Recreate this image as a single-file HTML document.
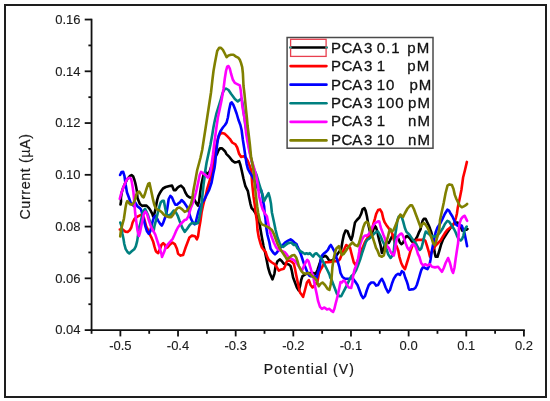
<!DOCTYPE html>
<html><head><meta charset="utf-8"><title>PCA3 DPV</title>
<style>html,body{margin:0;padding:0;background:#fff;}body{width:550px;height:401px;position:relative;overflow:hidden;}</style>
</head><body>
<svg width="550" height="401" viewBox="0 0 550 401" style="position:absolute;left:0;top:0">
<rect x="5" y="5" width="541" height="392" fill="none" stroke="#1e1e1e" stroke-width="2"/>
<g stroke="#111" stroke-width="1.8" fill="none" stroke-linecap="square">
<line x1="91.55" y1="19.54" x2="91.55" y2="330.1"/>
<line x1="91.55" y1="330.1" x2="523.92" y2="330.1"/>
</g>
<g stroke="#111" stroke-width="1.8" fill="none">
<line x1="84.7" y1="330.10" x2="91.55" y2="330.10"/>
<line x1="88.4" y1="304.22" x2="91.55" y2="304.22"/>
<line x1="84.7" y1="278.34" x2="91.55" y2="278.34"/>
<line x1="88.4" y1="252.46" x2="91.55" y2="252.46"/>
<line x1="84.7" y1="226.58" x2="91.55" y2="226.58"/>
<line x1="88.4" y1="200.70" x2="91.55" y2="200.70"/>
<line x1="84.7" y1="174.82" x2="91.55" y2="174.82"/>
<line x1="88.4" y1="148.94" x2="91.55" y2="148.94"/>
<line x1="84.7" y1="123.06" x2="91.55" y2="123.06"/>
<line x1="88.4" y1="97.18" x2="91.55" y2="97.18"/>
<line x1="84.7" y1="71.30" x2="91.55" y2="71.30"/>
<line x1="88.4" y1="45.42" x2="91.55" y2="45.42"/>
<line x1="84.7" y1="19.54" x2="91.55" y2="19.54"/>
<line x1="91.55" y1="330.1" x2="91.55" y2="333.8"/>
<line x1="120.38" y1="330.1" x2="120.38" y2="336.4"/>
<line x1="149.20" y1="330.1" x2="149.20" y2="333.8"/>
<line x1="178.03" y1="330.1" x2="178.03" y2="336.4"/>
<line x1="206.85" y1="330.1" x2="206.85" y2="333.8"/>
<line x1="235.68" y1="330.1" x2="235.68" y2="336.4"/>
<line x1="264.50" y1="330.1" x2="264.50" y2="333.8"/>
<line x1="293.32" y1="330.1" x2="293.32" y2="336.4"/>
<line x1="322.15" y1="330.1" x2="322.15" y2="333.8"/>
<line x1="350.98" y1="330.1" x2="350.98" y2="336.4"/>
<line x1="379.80" y1="330.1" x2="379.80" y2="333.8"/>
<line x1="408.63" y1="330.1" x2="408.63" y2="336.4"/>
<line x1="437.45" y1="330.1" x2="437.45" y2="333.8"/>
<line x1="466.28" y1="330.1" x2="466.28" y2="336.4"/>
<line x1="495.10" y1="330.1" x2="495.10" y2="333.8"/>
<line x1="523.92" y1="330.1" x2="523.92" y2="336.4"/>
</g>
<g font-family="'Liberation Sans', Arial, sans-serif" font-size="13" fill="#1a1a1a" stroke="#1a1a1a" stroke-width="0.12" text-anchor="end">
<text x="80.6" y="334.30">0.04</text>
<text x="80.6" y="282.54">0.06</text>
<text x="80.6" y="230.78">0.08</text>
<text x="80.6" y="179.02">0.10</text>
<text x="80.6" y="127.26">0.12</text>
<text x="80.6" y="75.50">0.14</text>
<text x="80.6" y="23.74">0.16</text>
</g>
<g font-family="'Liberation Sans', Arial, sans-serif" font-size="13" fill="#1a1a1a" stroke="#1a1a1a" stroke-width="0.12" text-anchor="middle">
<text x="120.38" y="349.8">-0.5</text>
<text x="178.03" y="349.8">-0.4</text>
<text x="235.68" y="349.8">-0.3</text>
<text x="293.33" y="349.8">-0.2</text>
<text x="350.98" y="349.8">-0.1</text>
<text x="408.63" y="349.8">0.0</text>
<text x="466.28" y="349.8">0.1</text>
<text x="523.93" y="349.8">0.2</text>
</g>
<text x="309.4" y="373.9" font-family="'Liberation Sans', Arial, sans-serif" font-size="14" letter-spacing="1.1" fill="#1a1a1a" stroke="#1a1a1a" stroke-width="0.2" text-anchor="middle">Potential (V)</text>
<text transform="translate(30.3,176.5) rotate(-90)" x="0" y="0" font-family="'Liberation Sans', Arial, sans-serif" font-size="14.3" letter-spacing="0.6" fill="#1a1a1a" stroke="#1a1a1a" stroke-width="0.2" text-anchor="middle">Current (µA)</text>
<g fill="none" stroke-width="2.6" stroke-linejoin="round" stroke-linecap="round">
<path stroke="#000000" d="M120.5,204.5 L121.0,201.5 L120.9,198.0 L121.7,192.5 L123.1,188.0 L125.1,183.3 L127.1,179.4 L129.7,176.2 L131.6,175.1 L133.1,176.2 L134.2,179.2 L135.3,183.0 L136.1,186.7 L136.8,190.4 L137.5,198.0 L139.9,204.0 L142.4,206.0 L144.0,205.6 L146.5,205.6 L149.0,208.1 L150.6,210.6 L152.3,213.8 L153.1,216.3 L154.3,213.8 L155.6,208.9 L156.4,204.0 L157.2,199.9 L158.4,195.8 L159.7,193.3 L161.3,190.8 L163.0,188.5 L165.7,187.0 L169.5,186.0 L172.0,185.6 L173.9,190.3 L175.6,190.1 L177.6,187.7 L178.5,186.9 L181.0,185.6 L183.5,188.1 L185.4,192.5 L187.2,195.6 L189.7,197.5 L192.2,197.5 L194.7,200.0 L196.6,203.8 L197.9,205.6 L199.1,201.2 L200.4,191.0 L201.5,183.9 L202.6,178.7 L204.0,173.0 L206.0,172.5 L207.5,174.0 L209.5,172.0 L211.5,166.0 L213.5,161.0 L215.5,156.5 L217.2,153.5 L218.4,150.5 L220.0,148.4 L222.1,148.4 L225.2,151.5 L226.3,153.8 L228.8,156.3 L232.2,160.6 L234.8,162.5 L237.2,161.9 L239.1,161.2 L240.4,165.0 L241.6,170.0 L243.5,178.8 L245.4,186.2 L247.9,191.2 L249.1,197.5 L250.4,203.8 L251.6,208.1 L253.5,210.0 L256.0,214.0 L258.8,220.0 L260.6,230.0 L262.0,238.0 L263.5,246.0 L265.0,252.0 L266.9,261.2 L268.1,267.5 L270.0,273.8 L272.5,279.4 L274.4,273.8 L275.6,266.2 L277.5,261.2 L280.0,259.4 L281.9,261.2 L283.8,263.8 L286.2,263.8 L288.8,264.4 L290.6,266.2 L291.9,271.2 L293.1,277.5 L295.0,282.5 L296.9,287.5 L298.8,290.5 L300.0,286.2 L301.2,280.0 L302.5,276.2 L306.0,274.0 L310.0,273.0 L313.9,273.0 L315.5,274.0 L317.5,270.0 L319.5,264.0 L321.0,259.0 L322.1,257.3 L323.8,256.5 L325.4,255.7 L327.1,257.3 L328.7,259.8 L330.5,261.0 L333.0,260.0 L336.0,256.0 L339.0,252.0 L341.2,249.0 L342.5,241.2 L343.8,235.0 L345.6,230.6 L347.5,231.2 L349.4,236.2 L351.2,240.0 L352.5,236.2 L353.8,228.8 L355.0,222.5 L356.9,220.0 L359.4,217.5 L361.2,213.8 L362.5,209.4 L364.4,208.1 L365.6,210.6 L366.9,216.2 L368.2,224.0 L369.9,231.4 L372.0,233.0 L374.8,225.7 L376.0,227.3 L377.3,231.4 L378.1,235.6 L379.3,240.5 L380.6,245.4 L381.9,253.0 L383.1,250.5 L384.4,245.5 L386.2,241.8 L388.8,243.0 L390.4,239.7 L392.1,236.4 L393.7,235.6 L395.4,237.2 L398.3,238.4 L399.9,242.6 L401.6,244.2 L403.2,242.6 L404.9,238.4 L406.5,236.0 L408.2,236.8 L409.8,238.4 L411.4,240.9 L413.1,242.6 L415.6,239.3 L417.2,236.8 L418.8,232.7 L420.5,229.4 L421.3,225.3 L422.5,221.0 L423.8,218.8 L425.6,218.8 L427.1,222.0 L428.7,225.3 L430.0,228.6 L431.2,231.9 L432.8,238.4 L433.8,244.0 L434.5,251.8 L435.6,256.8 L437.5,256.8 L439.4,250.5 L441.2,244.2 L443.1,239.2 L447.0,233.0 L451.0,227.0 L455.0,222.5 L457.5,222.5 L460.0,225.0 L462.2,230.6 L463.8,229.8 L466.3,229.8 L467.5,229.0"/>
<path stroke="#ff0000" d="M119.8,229.5 L122.7,229.5 L125.2,231.6 L127.6,232.0 L129.7,230.3 L131.3,227.5 L132.6,222.5 L134.5,218.8 L137.0,216.9 L139.5,215.6 L142.0,214.4 L144.0,218.0 L146.2,226.4 L148.7,231.3 L150.3,235.4 L151.6,237.9 L153.1,241.4 L154.4,246.4 L155.6,250.5 L156.4,251.9 L158.2,253.1 L160.1,248.8 L161.4,245.0 L163.2,243.1 L165.1,245.0 L165.6,248.0 L167.5,247.5 L170.0,244.4 L172.5,242.5 L175.0,244.4 L176.9,248.8 L178.1,253.8 L180.6,255.6 L183.1,255.0 L184.4,251.2 L185.6,247.5 L187.5,242.5 L189.4,237.5 L191.9,235.6 L195.0,236.2 L196.9,239.4 L198.1,236.2 L199.1,228.8 L200.4,221.2 L201.6,212.5 L202.9,206.2 L204.1,201.2 L205.4,197.5 L207.2,188.8 L209.1,182.5 L211.0,176.2 L213.0,166.0 L214.8,156.0 L216.3,146.0 L217.8,139.0 L219.5,135.0 L221.4,132.8 L224.8,133.8 L227.2,136.2 L229.8,138.8 L232.2,142.5 L235.4,144.4 L237.2,147.5 L239.1,153.8 L241.0,156.9 L243.5,156.2 L246.0,158.0 L247.9,161.2 L249.8,166.2 L251.0,170.0 L251.6,175.0 L252.2,183.8 L253.5,196.2 L254.8,205.0 L255.6,212.5 L256.9,221.2 L257.5,230.0 L258.8,237.5 L260.6,243.8 L261.9,247.5 L263.8,250.0 L265.6,251.9 L266.9,256.2 L268.8,260.0 L271.9,262.5 L275.0,264.4 L276.9,267.5 L278.8,270.6 L281.2,269.4 L283.8,268.8 L285.6,265.0 L286.9,261.2 L289.4,260.6 L291.9,261.9 L293.8,263.8 L295.0,268.8 L296.2,275.0 L297.5,281.2 L298.8,287.5 L300.0,292.5 L301.9,295.0 L303.1,296.9 L305.0,290.0 L306.9,282.5 L308.8,280.0 L310.6,285.0 L312.5,287.5 L315.0,285.0 L317.5,281.2 L318.8,274.0 L320.5,269.7 L322.1,267.2 L323.8,263.9 L325.4,262.3 L327.9,262.3 L330.4,261.9 L332.8,261.4 L335.3,261.0 L337.8,261.4 L340.0,259.0 L342.5,252.5 L344.4,248.8 L346.2,245.0 L348.1,246.2 L350.0,247.5 L351.2,252.5 L352.5,257.5 L353.8,262.5 L355.6,265.0 L357.5,261.0 L360.0,255.0 L362.5,248.0 L365.0,242.0 L367.5,238.0 L369.5,235.6 L370.7,232.3 L372.3,228.2 L373.6,223.2 L374.8,219.1 L376.2,213.8 L378.1,210.0 L380.0,209.4 L381.9,212.5 L383.4,219.1 L384.7,222.4 L386.3,224.9 L388.0,227.3 L389.2,229.0 L390.8,230.6 L392.1,233.1 L392.9,236.4 L395.0,243.4 L396.5,246.0 L398.3,250.8 L399.4,256.8 L401.2,263.0 L403.1,266.8 L405.0,269.2 L406.9,263.0 L408.8,256.8 L410.6,250.5 L412.5,245.5 L414.4,241.8 L416.9,239.9 L421.2,239.9 L423.8,239.3 L425.4,240.9 L426.9,245.5 L428.8,251.8 L430.0,256.8 L431.2,253.0 L433.1,249.2 L435.6,245.5 L438.1,243.0 L440.6,240.5 L442.5,237.2 L444.9,233.1 L447.4,229.8 L450.7,227.3 L453.2,224.9 L454.8,221.6 L456.0,217.5 L456.9,213.8 L457.7,208.1 L458.9,202.3 L460.1,196.6 L461.4,190.0 L463.1,177.5 L465.0,170.0 L466.9,161.9"/>
<path stroke="#0000ff" d="M120.1,175.0 L121.5,172.0 L123.2,171.9 L124.5,176.2 L125.7,185.0 L127.0,192.5 L128.9,197.5 L130.7,203.0 L133.9,206.0 L135.0,202.3 L137.5,206.4 L139.9,208.1 L141.0,209.5 L142.1,213.2 L143.8,219.8 L145.4,226.4 L147.0,231.3 L148.7,233.8 L150.3,231.3 L151.6,225.6 L152.8,220.6 L154.0,217.3 L155.3,215.7 L156.5,217.3 L158.1,220.6 L160.2,223.9 L161.8,225.6 L163.1,223.1 L164.3,219.8 L165.5,216.5 L166.4,213.2 L167.2,209.1 L168.7,199.0 L170.4,195.8 L172.0,197.4 L173.7,201.5 L175.3,204.8 L176.9,204.8 L178.6,203.2 L180.0,202.3 L181.6,200.0 L184.1,202.5 L186.6,206.2 L188.5,210.0 L189.7,215.0 L191.0,218.8 L192.9,222.5 L194.7,224.4 L196.0,221.2 L197.2,216.2 L198.5,211.2 L200.4,206.2 L202.2,202.5 L204.1,200.0 L206.0,196.2 L209.1,190.0 L211.6,182.5 L213.2,174.0 L214.5,168.0 L215.3,162.0 L216.0,154.0 L217.2,143.8 L218.5,136.2 L220.4,131.2 L222.9,127.5 L225.0,125.0 L226.6,122.5 L227.9,117.5 L229.1,110.0 L230.5,103.5 L231.6,102.3 L233.3,104.7 L234.9,108.8 L236.6,113.5 L238.5,120.0 L240.4,125.0 L241.6,130.0 L242.9,140.0 L244.1,147.5 L245.4,156.2 L246.6,163.8 L247.9,168.8 L249.8,172.5 L252.2,176.2 L254.1,180.0 L256.0,185.0 L258.5,190.0 L261.0,190.0 L262.2,193.8 L262.9,200.0 L264.1,206.2 L264.6,212.5 L265.6,220.0 L266.2,227.5 L267.5,235.0 L269.4,242.5 L270.6,248.8 L273.1,252.5 L275.0,254.4 L276.9,252.5 L279.4,248.8 L281.9,246.2 L285.0,242.5 L288.1,240.6 L290.6,239.4 L292.5,240.6 L294.4,242.5 L296.5,244.0 L297.5,246.6 L299.1,249.9 L300.8,254.0 L302.4,259.0 L304.0,263.9 L305.7,268.0 L307.3,272.1 L309.0,275.4 L310.6,276.3 L312.5,276.2 L315.0,276.2 L316.9,277.5 L318.0,272.1 L319.7,267.2 L320.5,261.4 L321.3,257.3 L322.5,254.9 L324.2,253.2 L326.3,251.6 L327.9,249.9 L329.5,246.6 L330.8,245.0 L332.8,248.3 L334.5,251.6 L335.7,254.9 L336.9,259.0 L338.2,263.1 L339.4,267.2 L340.5,273.0 L342.5,277.0 L345.0,278.8 L348.8,278.8 L352.5,278.1 L355.0,281.2 L357.5,285.0 L359.4,290.0 L361.2,295.0 L363.1,298.1 L365.0,296.2 L366.9,290.0 L368.8,285.0 L371.2,282.5 L373.8,282.5 L376.2,285.6 L378.1,285.0 L380.0,281.2 L381.9,278.8 L383.8,282.5 L385.6,287.5 L388.1,292.5 L390.0,290.0 L391.9,283.8 L393.8,278.8 L396.2,275.0 L398.1,273.8 L400.0,275.0 L401.9,271.2 L403.7,272.5 L405.2,277.5 L406.7,281.2 L407.9,285.0 L408.6,288.3 L409.5,289.8 L411.2,289.4 L413.5,289.1 L415.3,288.0 L416.8,285.0 L418.0,281.2 L419.1,277.5 L420.2,273.7 L421.3,270.0 L423.1,266.8 L425.0,268.0 L427.5,269.2 L429.4,265.5 L430.6,259.2 L431.9,250.5 L433.1,244.2 L434.4,238.0 L435.6,232.5 L437.5,227.5 L440.0,223.8 L442.5,218.8 L444.9,213.8 L447.4,209.7 L449.0,210.6 L450.7,213.8 L452.3,216.3 L454.0,219.9 L455.6,224.0 L457.3,225.7 L459.7,224.9 L461.8,225.7 L463.0,229.0 L464.7,233.9 L465.5,238.0 L466.3,242.1 L467.1,246.2"/>
<path stroke="#008080" d="M120.3,222.5 L121.5,226.0 L122.3,233.2 L123.5,239.0 L124.3,244.0 L125.6,248.8 L127.6,252.1 L129.3,253.4 L131.7,251.3 L134.2,249.3 L135.8,246.4 L137.1,241.4 L137.9,236.5 L138.3,231.6 L139.1,227.5 L140.0,225.0 L141.4,218.8 L143.2,211.0 L145.1,208.8 L148.0,215.0 L151.0,225.0 L153.6,231.3 L154.4,226.4 L155.7,221.4 L156.9,216.5 L158.1,211.6 L159.4,206.6 L160.7,202.5 L162.5,200.7 L163.8,200.7 L165.4,208.9 L166.3,213.8 L168.5,216.0 L171.0,214.0 L173.7,210.6 L176.0,212.5 L177.9,216.2 L179.7,221.2 L182.2,227.5 L184.7,231.9 L187.2,228.8 L189.7,225.0 L191.6,223.1 L193.5,223.1 L196.0,223.8 L197.9,223.1 L199.1,218.8 L200.4,212.5 L201.6,206.2 L202.2,197.5 L203.5,185.0 L204.7,176.2 L205.4,170.0 L206.6,162.5 L208.5,153.8 L210.4,145.0 L212.2,135.0 L213.5,127.0 L214.5,122.0 L216.3,114.0 L218.5,107.0 L220.6,100.0 L222.6,93.0 L224.5,89.5 L226.0,88.5 L228.5,90.0 L231.0,93.8 L232.5,95.7 L234.9,99.0 L237.8,101.4 L239.9,99.8 L241.5,98.5 L242.5,103.0 L243.5,111.0 L244.5,118.0 L245.3,125.0 L246.8,133.0 L248.0,141.0 L249.5,150.0 L251.0,158.0 L252.8,166.0 L254.8,171.0 L256.6,175.0 L259.1,183.8 L261.0,190.0 L262.9,196.2 L264.1,201.2 L266.0,197.5 L268.5,193.1 L269.8,197.5 L271.0,203.8 L271.9,212.5 L273.8,221.2 L275.6,230.0 L277.5,237.5 L279.4,242.5 L281.2,246.2 L283.1,246.9 L285.6,245.0 L288.1,243.1 L291.2,242.5 L293.8,245.0 L295.6,244.5 L297.5,248.3 L299.9,250.8 L302.4,252.4 L304.9,254.0 L306.5,253.2 L308.2,254.0 L309.8,253.2 L311.4,254.9 L313.1,256.5 L314.7,254.0 L316.4,253.2 L318.0,254.9 L319.7,256.5 L321.3,258.2 L323.0,261.4 L324.6,264.7 L326.3,268.0 L327.9,271.3 L329.5,274.6 L330.4,277.9 L331.2,278.8 L333.1,283.8 L335.0,288.8 L336.9,293.8 L339.4,296.2 L341.2,296.2 L343.1,292.5 L345.0,288.8 L346.9,285.0 L348.8,281.2 L351.2,276.2 L353.8,274.0 L356.2,270.0 L358.5,264.0 L360.5,258.5 L362.3,252.5 L363.9,247.9 L365.8,242.1 L367.4,239.7 L369.0,238.8 L370.7,237.2 L372.3,235.6 L374.0,233.9 L375.6,232.3 L377.3,231.4 L378.5,232.3 L380.5,236.0 L382.5,241.0 L384.5,245.0 L386.2,248.0 L388.1,254.2 L390.6,258.0 L392.5,255.5 L393.8,250.5 L394.5,244.0 L395.4,233.9 L396.2,229.0 L397.0,223.2 L397.8,219.1 L398.7,216.6 L400.3,215.8 L401.9,217.5 L403.2,221.6 L404.9,228.0 L406.5,231.9 L408.2,233.5 L409.8,235.2 L411.4,237.6 L413.1,240.1 L414.7,241.7 L416.4,244.2 L418.0,247.5 L419.7,250.0 L421.3,248.3 L422.5,244.2 L423.4,240.1 L424.6,235.2 L425.8,231.5 L427.5,233.0 L430.0,235.0 L433.7,236.8 L436.1,236.0 L438.0,234.5 L440.0,232.5 L442.5,228.8 L444.9,224.0 L447.4,220.8 L449.0,221.6 L450.7,224.0 L452.3,226.5 L454.0,229.0 L455.6,232.3 L456.9,235.6 L458.5,238.8 L460.6,240.5 L462.2,238.8 L463.4,235.6 L464.3,231.4 L465.5,228.2 L466.7,226.5"/>
<path stroke="#ff00ff" d="M119.8,198.8 L120.7,195.2 L121.9,191.6 L123.1,188.0 L125.2,183.0 L127.1,179.2 L128.6,178.1 L130.1,177.7 L131.2,179.2 L132.0,183.0 L132.7,187.4 L133.4,192.0 L133.8,196.0 L134.2,201.0 L134.6,206.0 L135.1,212.5 L136.4,222.5 L137.6,231.0 L138.9,236.0 L140.0,232.5 L142.0,222.5 L143.9,213.8 L145.4,211.6 L147.0,214.0 L148.7,219.8 L150.3,224.7 L152.0,228.8 L153.6,231.3 L155.3,234.6 L157.0,240.0 L159.5,247.5 L161.4,253.8 L162.0,256.9 L163.9,252.5 L165.7,247.5 L168.2,243.8 L170.7,241.2 L172.6,239.0 L174.4,235.0 L176.0,231.2 L177.9,227.5 L179.7,225.0 L182.2,222.5 L184.7,220.0 L186.6,219.4 L188.5,216.2 L189.7,211.9 L191.0,207.5 L193.5,201.2 L196.0,192.5 L197.9,183.8 L199.7,175.0 L201.0,171.9 L202.9,173.1 L205.4,175.0 L207.9,177.5 L209.1,176.2 L210.4,171.2 L211.6,164.0 L212.9,155.0 L214.1,145.0 L215.4,135.0 L216.6,126.2 L217.9,117.5 L219.8,108.8 L221.6,100.0 L223.5,89.0 L224.8,78.5 L226.0,71.0 L227.2,66.6 L228.5,66.0 L229.8,68.5 L231.0,73.5 L232.9,79.8 L234.8,82.9 L237.2,84.1 L239.8,85.4 L240.7,89.9 L241.5,97.3 L242.3,105.6 L243.6,113.8 L244.6,119.0 L245.4,124.5 L246.0,132.5 L247.2,140.0 L249.1,150.0 L251.0,158.8 L253.5,166.0 L256.0,175.0 L257.9,185.0 L259.1,196.2 L261.0,203.8 L262.5,208.8 L265.0,213.8 L266.9,216.2 L268.1,222.5 L269.4,228.8 L270.6,233.8 L271.9,237.5 L273.8,242.5 L276.2,247.5 L278.8,250.0 L282.5,251.2 L285.0,252.5 L286.2,253.8 L288.8,257.5 L291.2,258.8 L293.8,260.0 L296.2,262.5 L298.8,266.2 L301.2,270.0 L302.4,269.7 L304.0,265.6 L305.7,262.3 L307.3,259.8 L308.6,261.4 L309.8,265.6 L311.0,269.7 L312.3,273.8 L313.5,277.5 L314.4,283.0 L315.6,289.0 L316.9,295.0 L318.1,301.2 L320.0,306.9 L321.9,308.8 L324.4,307.5 L326.9,309.4 L329.4,308.8 L331.2,310.6 L333.1,311.9 L334.4,308.8 L335.6,303.8 L336.9,298.8 L338.1,293.8 L339.4,287.5 L340.5,282.0 L341.9,282.5 L343.4,280.5 L345.0,281.2 L346.9,285.0 L348.8,287.5 L351.2,288.0 L352.5,282.5 L353.1,276.2 L354.4,270.0 L356.2,265.5 L358.0,259.0 L359.2,252.0 L360.0,245.4 L361.6,240.5 L363.3,237.2 L364.9,235.6 L366.6,235.6 L368.2,234.7 L369.9,232.3 L371.5,229.0 L373.2,225.7 L374.8,223.2 L376.4,222.4 L378.1,221.2 L379.3,221.6 L380.1,224.9 L381.0,228.2 L382.2,231.4 L383.4,234.7 L384.7,238.0 L385.9,242.1 L387.1,246.2 L388.8,248.0 L391.2,253.0 L393.8,255.5 L395.0,251.0 L395.5,245.8 L396.6,240.1 L398.3,236.0 L399.9,234.3 L401.6,233.5 L402.8,235.2 L404.0,238.4 L405.7,243.4 L407.3,247.5 L409.0,250.0 L410.2,248.3 L411.4,245.8 L412.7,244.2 L414.3,245.0 L415.6,246.7 L416.8,250.0 L418.0,254.1 L419.4,256.8 L421.2,263.0 L423.1,265.5 L425.0,264.2 L427.5,265.5 L430.0,264.2 L431.9,266.8 L435.0,267.4 L438.1,266.8 L440.0,269.2 L441.9,271.8 L443.8,268.0 L445.6,263.0 L448.1,258.0 L450.0,263.0 L451.9,270.5 L453.1,273.0 L454.4,268.0 L455.6,259.2 L456.9,250.5 L458.1,243.0 L458.6,235.0 L458.9,228.2 L459.7,223.2 L461.0,219.1 L463.0,216.6 L464.7,215.8 L466.3,219.1 L467.1,220.8"/>
<path stroke="#808000" d="M120.2,236.5 L121.0,230.0 L122.0,226.0 L123.9,218.8 L124.9,212.0 L125.5,207.8 L126.4,203.0 L127.3,201.2 L128.5,202.4 L130.0,204.2 L131.8,204.8 L133.0,203.6 L134.2,201.8 L135.1,199.5 L136.2,194.9 L137.5,192.5 L139.1,191.6 L140.8,194.1 L142.4,196.6 L143.6,197.4 L144.9,194.1 L146.1,190.0 L148.2,183.8 L149.5,183.0 L151.0,190.0 L151.9,194.1 L153.1,199.9 L154.3,204.8 L155.6,208.1 L157.6,209.7 L159.7,210.6 L161.7,212.2 L163.8,214.7 L166.3,216.3 L168.7,217.1 L171.2,217.1 L173.2,214.7 L175.3,210.6 L177.4,208.1 L179.7,207.5 L182.2,209.4 L184.7,211.9 L187.2,210.6 L189.1,207.5 L191.0,203.8 L192.2,199.0 L193.5,190.0 L195.4,180.0 L197.2,170.0 L199.1,163.0 L200.4,158.0 L202.2,150.0 L204.1,137.5 L205.6,128.0 L207.2,117.5 L209.1,105.0 L211.0,92.5 L212.4,80.0 L213.5,71.0 L214.8,63.5 L216.0,57.2 L217.2,51.0 L219.1,47.9 L221.0,47.9 L222.9,49.8 L224.8,53.5 L226.6,57.2 L228.5,55.4 L231.0,54.8 L233.5,54.8 L236.0,56.6 L238.5,57.9 L239.8,59.8 L241.0,62.9 L242.2,67.2 L242.9,73.5 L243.2,79.8 L243.5,86.0 L244.4,93.2 L245.2,101.4 L246.0,109.7 L246.9,118.0 L247.6,126.0 L248.5,133.0 L249.8,143.8 L251.0,156.2 L252.9,166.2 L254.1,175.0 L254.8,185.0 L256.0,196.2 L257.2,206.2 L258.1,212.5 L260.0,221.2 L261.9,224.4 L265.0,225.6 L268.8,227.5 L271.9,230.0 L273.8,233.8 L275.6,238.8 L277.5,243.8 L280.0,248.8 L282.5,252.5 L285.0,256.2 L286.9,259.4 L289.4,257.5 L291.9,255.6 L294.4,255.0 L296.2,257.5 L297.5,261.2 L298.8,266.0 L300.3,268.8 L301.6,271.3 L303.2,273.0 L305.7,273.8 L308.2,273.0 L310.6,274.6 L312.3,276.3 L315.0,278.0 L316.9,281.2 L318.8,286.2 L320.6,283.8 L322.5,282.5 L325.0,285.0 L327.5,288.8 L329.4,290.0 L330.6,285.0 L331.6,278.0 L332.4,267.2 L333.2,261.4 L334.1,256.5 L335.3,251.6 L336.5,248.3 L338.8,246.2 L340.6,251.2 L341.9,255.0 L343.8,253.8 L345.6,251.2 L348.1,247.5 L350.0,245.0 L352.5,242.5 L355.0,245.0 L357.5,246.2 L359.0,243.0 L360.0,239.7 L361.6,233.9 L363.3,227.3 L364.9,223.2 L366.6,221.6 L368.2,223.2 L369.9,228.2 L371.5,233.9 L373.2,238.8 L374.8,243.8 L376.0,247.9 L377.5,250.5 L379.4,255.5 L381.9,256.8 L383.8,255.5 L384.8,251.0 L386.3,242.1 L388.0,236.4 L389.2,231.4 L390.4,229.0 L392.1,231.4 L393.7,229.8 L395.4,225.7 L397.0,221.6 L398.7,217.5 L400.3,214.5 L403.1,216.9 L405.0,213.0 L407.5,208.5 L410.3,205.3 L411.9,205.2 L413.8,208.8 L415.6,213.8 L417.5,218.8 L419.4,224.0 L420.6,227.0 L422.1,224.5 L423.8,222.8 L425.4,224.5 L427.1,226.9 L428.7,230.2 L430.4,235.2 L432.0,239.3 L433.2,243.4 L434.5,245.0 L435.7,242.6 L436.9,238.4 L438.2,234.3 L439.4,228.0 L440.0,220.0 L441.9,211.2 L443.8,202.5 L445.6,193.0 L447.5,185.6 L449.4,184.4 L451.9,185.0 L453.5,189.0 L454.8,194.9 L456.4,199.0 L458.1,202.3 L459.7,205.6 L461.8,207.3 L463.8,206.4 L465.9,205.2 L467.1,204.0"/>
</g>
<rect x="287.1" y="37.5" width="145.9" height="110.7" fill="#fff" stroke="#4a4a4a" stroke-width="1.5"/>
<line x1="290.6" y1="47.50" x2="326.4" y2="47.50" stroke="#000000" stroke-width="2.7" stroke-linecap="round"/>
<text y="52.7" font-family="'Liberation Sans', Arial, sans-serif" font-size="15" fill="#111" stroke="#111" stroke-width="0.3"><tspan x="331.1">P</tspan><tspan x="341.6">C</tspan><tspan x="352.2">A</tspan><tspan x="364">3</tspan></text>
<text x="376.7" y="52.7" font-family="'Liberation Sans', Arial, sans-serif" font-size="15" letter-spacing="1" fill="#111" stroke="#111" stroke-width="0.3">0.1</text>
<text x="407.3" y="52.7" font-family="'Liberation Sans', Arial, sans-serif" font-size="15" letter-spacing="1" fill="#111" stroke="#111" stroke-width="0.3">pM</text>
<line x1="290.6" y1="66.08" x2="326.4" y2="66.08" stroke="#ff0000" stroke-width="2.7" stroke-linecap="round"/>
<text y="71.1" font-family="'Liberation Sans', Arial, sans-serif" font-size="15" fill="#111" stroke="#111" stroke-width="0.3"><tspan x="331.1">P</tspan><tspan x="341.6">C</tspan><tspan x="352.2">A</tspan><tspan x="364">3</tspan></text>
<text x="376.7" y="71.1" font-family="'Liberation Sans', Arial, sans-serif" font-size="15" letter-spacing="1" fill="#111" stroke="#111" stroke-width="0.3">1</text>
<text x="407.3" y="71.1" font-family="'Liberation Sans', Arial, sans-serif" font-size="15" letter-spacing="1" fill="#111" stroke="#111" stroke-width="0.3">pM</text>
<line x1="290.6" y1="84.66" x2="326.4" y2="84.66" stroke="#0000ff" stroke-width="2.7" stroke-linecap="round"/>
<text y="89.5" font-family="'Liberation Sans', Arial, sans-serif" font-size="15" fill="#111" stroke="#111" stroke-width="0.3"><tspan x="331.1">P</tspan><tspan x="341.6">C</tspan><tspan x="352.2">A</tspan><tspan x="364">3</tspan></text>
<text x="376.7" y="89.5" font-family="'Liberation Sans', Arial, sans-serif" font-size="15" letter-spacing="1" fill="#111" stroke="#111" stroke-width="0.3">10</text>
<text x="409.5" y="89.5" font-family="'Liberation Sans', Arial, sans-serif" font-size="15" letter-spacing="1" fill="#111" stroke="#111" stroke-width="0.3">pM</text>
<line x1="290.6" y1="103.24" x2="326.4" y2="103.24" stroke="#008080" stroke-width="2.7" stroke-linecap="round"/>
<text y="107.9" font-family="'Liberation Sans', Arial, sans-serif" font-size="15" fill="#111" stroke="#111" stroke-width="0.3"><tspan x="331.1">P</tspan><tspan x="341.6">C</tspan><tspan x="352.2">A</tspan><tspan x="364">3</tspan></text>
<text x="376.7" y="107.9" font-family="'Liberation Sans', Arial, sans-serif" font-size="15" letter-spacing="1" fill="#111" stroke="#111" stroke-width="0.3">100</text>
<text x="408.1" y="107.9" font-family="'Liberation Sans', Arial, sans-serif" font-size="15" letter-spacing="1" fill="#111" stroke="#111" stroke-width="0.3">pM</text>
<line x1="290.6" y1="121.82" x2="326.4" y2="121.82" stroke="#ff00ff" stroke-width="2.7" stroke-linecap="round"/>
<text y="126.3" font-family="'Liberation Sans', Arial, sans-serif" font-size="15" fill="#111" stroke="#111" stroke-width="0.3"><tspan x="331.1">P</tspan><tspan x="341.6">C</tspan><tspan x="352.2">A</tspan><tspan x="364">3</tspan></text>
<text x="376.7" y="126.3" font-family="'Liberation Sans', Arial, sans-serif" font-size="15" letter-spacing="1" fill="#111" stroke="#111" stroke-width="0.3">1</text>
<text x="408.1" y="126.3" font-family="'Liberation Sans', Arial, sans-serif" font-size="15" letter-spacing="1" fill="#111" stroke="#111" stroke-width="0.3">nM</text>
<line x1="290.6" y1="140.40" x2="326.4" y2="140.40" stroke="#808000" stroke-width="2.7" stroke-linecap="round"/>
<text y="144.7" font-family="'Liberation Sans', Arial, sans-serif" font-size="15" fill="#111" stroke="#111" stroke-width="0.3"><tspan x="331.1">P</tspan><tspan x="341.6">C</tspan><tspan x="352.2">A</tspan><tspan x="364">3</tspan></text>
<text x="376.7" y="144.7" font-family="'Liberation Sans', Arial, sans-serif" font-size="15" letter-spacing="1" fill="#111" stroke="#111" stroke-width="0.3">10</text>
<text x="408.1" y="144.7" font-family="'Liberation Sans', Arial, sans-serif" font-size="15" letter-spacing="1" fill="#111" stroke="#111" stroke-width="0.3">nM</text>
<rect x="290.6" y="39.3" width="35.5" height="17.1" fill="none" stroke="#e8404f" stroke-width="1.3"/>
<circle cx="290.5" cy="47.5" r="1.1" fill="#20b0a0"/><circle cx="326.5" cy="47.5" r="1.1" fill="#20b0a0"/>
</svg>
</body></html>
